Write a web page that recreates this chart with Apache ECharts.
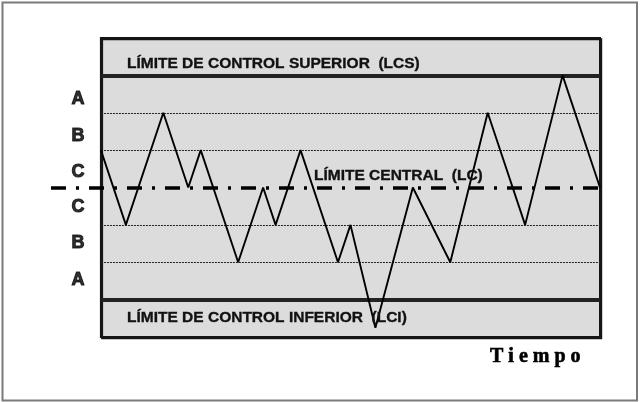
<!DOCTYPE html>
<html>
<head>
<meta charset="utf-8">
<style>
  html, body { margin: 0; padding: 0; background: #ffffff; }
  #chart { width: 640px; height: 402px; }
</style>
<script src="https://cdn.jsdelivr.net/npm/echarts@6/dist/echarts.min.js"></script>
</head>
<body>
<div id="chart"></div>
<script>
// ---- data ----
const timeIdx = [0, 2, 5, 7, 8, 11, 13, 14, 16, 19, 20, 22, 25, 28, 31, 34, 37, 40];
const values  = [1, -1, 2, 0, 1, -2, 0, -1, 1, -2, -1, -3.75, 0, -2, 2, -1, 3, 0];
const zoneLabels = ['A', 'B', 'C', 'C', 'B', 'A'];
const zoneLabelY = [2.36, 1.37, 0.42, -0.52, -1.48, -2.47];
const controlLimits = [3, -3];      // LCS, LCI
const centralLine = 0;              // LC
const zoneLines = [2, 1, -1, -2];
const limitTexts = ['LÍMITE DE CONTROL SUPERIOR  (LCS)', 'LÍMITE CENTRAL  (LC)', 'LÍMITE DE CONTROL INFERIOR  (LCI)'];
const axisTitle = 'T i e m p o';
const xMin = -4, xMax = 40, yMin = -4, yMax = 4;

const seriesData = timeIdx.map((t, i) => [t, values[i]]);
const x0 = timeIdx[0], x1 = timeIdx[timeIdx.length - 1];

const chart = echarts.init(document.getElementById('chart'), null, { renderer: 'canvas' });
const sans = '"Liberation Sans", Arial, sans-serif';

const limitTextStyle = (text) => ({
  text: text, font: 'bold 15.5px ' + sans, fill: '#111',
  stroke: '#111', lineWidth: 0.35,
  textAlign: 'left', textVerticalAlign: 'middle'
});

const option = {
  animation: false,
  backgroundColor: '#ffffff',
  grid: { left: 51, right: 40, top: 38, bottom: 65 },
  xAxis: { type: 'value', min: xMin, max: xMax, show: false, splitLine: { show: false } },
  yAxis: { type: 'value', min: yMin, max: yMax, show: false, splitLine: { show: false } },
  series: [
    {
      type: 'line',
      data: seriesData,
      clip: false,
      symbol: 'none',
      lineStyle: { color: '#000', width: 1.9 },
      z: 5,
      markArea: {
        silent: true,
        itemStyle: {
          color: '#dcdcdc', borderColor: '#151515', borderWidth: 2,
          shadowColor: '#151515', shadowOffsetX: 1.2, shadowOffsetY: 1.2, shadowBlur: 0
        },
        data: [[{ coord: [x0, yMin] }, { coord: [x1, yMax] }]]
      },
      markLine: {
        silent: true,
        symbol: ['none', 'none'],
        label: { show: false },
        data: [
          ...zoneLines.map(v => [
            { coord: [x0, v], lineStyle: { color: '#222', width: 1, type: [2, 1] } },
            { coord: [x1, v] }
          ]),
          ...controlLimits.map(v => [
            { coord: [x0, v], lineStyle: { color: '#222', width: 4, type: 'solid' } },
            { coord: [x1, v] }
          ]),
          [
            { coord: [xMin, centralLine], lineStyle: { color: '#000', width: 3.5, type: [15, 10, 3, 10] } },
            { coord: [x1, centralLine] }
          ]
        ]
      }
    },
    {
      type: 'scatter',
      data: zoneLabelY.map((y, i) => ({ value: [-2, y], name: zoneLabels[i] })),
      symbolSize: 0,
      silent: true,
      z: 6,
      label: {
        show: true,
        position: 'inside',
        offset: [2, 0],
        formatter: p => p.name,
        fontFamily: sans,
        fontWeight: 'bold',
        fontSize: 18,
        color: '#000',
        textBorderColor: '#000',
        textBorderWidth: 1
      }
    }
  ],
  graphic: [
    {
      type: 'rect', z: 100, silent: true,
      shape: { x: 2.5, y: 2.5, width: 634.5, height: 398 },
      style: { fill: 'none', stroke: '#7a7a7a', lineWidth: 2 }
    },
    { type: 'text', z: 100, silent: true, x: 127, y: 63.5, style: limitTextStyle(limitTexts[0]) },
    { type: 'text', z: 100, silent: true, x: 314, y: 175.5, style: limitTextStyle(limitTexts[1]) },
    { type: 'text', z: 100, silent: true, x: 127, y: 318, style: limitTextStyle(limitTexts[2]) },
    {
      type: 'text', z: 100, silent: true, x: 490, y: 357,
      style: {
        text: axisTitle, font: 'bold 20px "Liberation Serif", "Times New Roman", serif',
        fill: '#000', stroke: '#000', lineWidth: 0.6,
        textAlign: 'left', textVerticalAlign: 'middle'
      }
    }
  ]
};
chart.setOption(option);
</script>
</body>
</html>
